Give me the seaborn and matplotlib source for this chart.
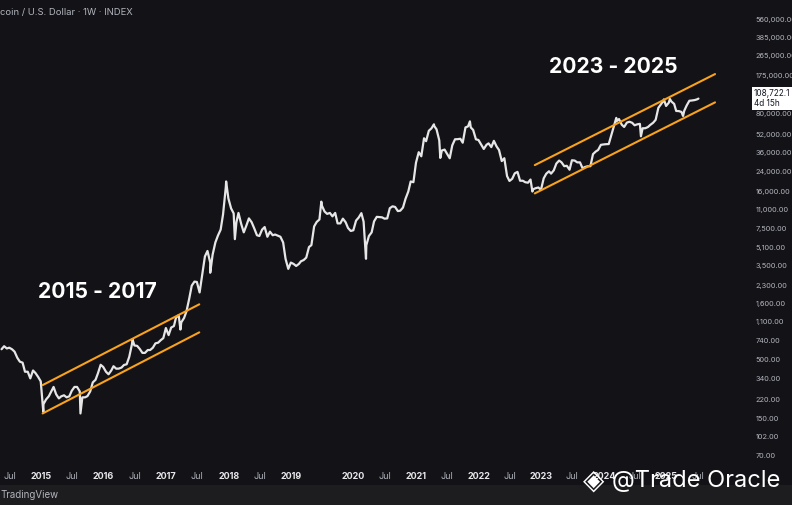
import matplotlib
matplotlib.use("Agg")
import matplotlib.pyplot as plt
import matplotlib.ticker as mticker
import matplotlib.transforms as mtransforms
from matplotlib.patches import Rectangle
import seaborn as sns
import pandas as pd

# ---------------- data ----------------
first_month = "2014-05"
last_month = "2025-06"

# mid-month price (USD)
mid_price = [
    620, 630, 620, 520, 470, 390, 400, 350,                                  # 2014 May-Dec
    200, 235, 285, 225, 240, 235, 285, 260, 230, 260, 330, 450,              # 2015
    390, 400, 415, 425, 455, 690, 665, 575, 610, 640, 710, 780,              # 2016
    830, 1000, 1250, 1180, 1750, 2500, 2000, 4200, 3700, 5600, 7300, 17500,  # 2017
    11300, 8500, 8200, 8000, 8500, 6500, 7300, 6300, 6500, 6450, 5600, 3250, # 2018
    3600, 3600, 3900, 5100, 7800, 9000, 10600, 10300, 10300, 8300, 8500, 7100,  # 2019
    8800, 10250, 5300, 6900, 9500, 9400, 9200, 11800, 10700, 11500, 16000, 19400,  # 2020
    36000, 48000, 56000, 62000, 46000, 38000, 31800, 47000, 47500, 60000, 60000, 47000,  # 2021
    42000, 42000, 40000, 40500, 30000, 22000, 20800, 24000, 20000, 19200, 16800, 17400,  # 2022
    21000, 24300, 24800, 30300, 27000, 25100, 30300, 29200, 26600, 27000, 36500, 41900,  # 2023
    42500, 51900, 68000, 63500, 66300, 66000, 64000, 59000, 60500, 66000, 90000, 104000,  # 2024
    100000, 97500, 84000, 84500, 104000, 105500,                              # 2025 Jan-Jun
]
# month-end price (USD)
end_price = [
    660, 640, 590, 480, 390, 340, 380, 320,
    220, 255, 245, 235, 230, 263, 285, 230, 236, 313, 377, 430,
    370, 437, 416, 448, 530, 670, 625, 575, 610, 700, 745, 960,
    970, 1190, 1080, 1350, 2300, 2480, 2870, 4700, 4350, 6450, 10000, 13900,
    10200, 10300, 6900, 9200, 7500, 6400, 7700, 7000, 6600, 6300, 4000, 3700,
    3450, 3800, 4100, 5300, 8550, 12000, 10100, 9600, 8300, 9150, 7550, 7200,
    9350, 8600, 6400, 8650, 9450, 9150, 11350, 11650, 10780, 13800, 19700, 29000,
    33100, 45200, 58800, 57700, 37300, 35000, 41500, 47100, 43800, 61300, 57000, 46300,
    38500, 43200, 45500, 37700, 31800, 19900, 23300, 20000, 19400, 20500, 17150, 16550,
    23100, 23150, 28500, 29250, 27200, 30500, 29200, 25900, 26950, 34600, 37700, 42250,
    42600, 61200, 71300, 60600, 67500, 62700, 64600, 59000, 63300, 70200, 96400, 93400,
    102400, 84300, 82500, 94200, 104600, 107100,
]
# weekly extremes (wicks) and the last print
wick_dates = ["2015-01-14", "2015-08-19", "2016-06-18", "2017-03-25", "2017-09-15",
              "2017-12-17", "2018-02-06", "2019-06-26", "2020-03-13", "2021-04-14",
              "2021-05-21", "2021-11-10", "2022-11-10", "2024-03-14", "2024-08-05",
              "2024-12-17", "2025-01-21", "2025-04-08", "2025-07-07"]
wick_prices = [170, 165, 760, 930, 3000,
               19700, 6000, 13000, 4000, 64000,
               32000, 68000, 16000, 73000, 50000,
               107000, 108000, 76000, 108722.1]

# channels
ch1_dates = ["2015-01-10", "2017-07-13"]
ch1_upper = [296, 1565]
ch1_lower = [165, 878]
ch2_dates = ["2022-11-24", "2025-10-12"]
ch2_upper = [27600, 180300]
ch2_lower = [15400, 100600]

price_ticks = [70, 102, 150, 220, 340, 500, 740, 1100, 1600, 2300, 3500, 5100, 7500,
               11000, 16000, 24000, 36000, 52000, 80000, 175000, 265000, 385000,
               560000, 840000]
year_ticks = ["2015", "2016", "2017", "2018", "2019", "2020", "2021", "2022", "2023",
              "2024", "2025"]
jul_ticks = ["2014", "2015", "2016", "2017", "2018", "2020", "2021", "2022", "2023",
             "2024", "2025"]
last_price = 108722.1
last_price_label = "108,722.1"
countdown_label = "4d 15h"

# ---------------- build series ----------------
months = pd.period_range(first_month, last_month, freq="M")
dates, prices = [], []
for m, pm, pe in zip(months, mid_price, end_price):
    dates.append(m.start_time + pd.Timedelta(days=14))
    prices.append(pm)
    dates.append(m.end_time.normalize() - pd.Timedelta(days=1))
    prices.append(pe)
dates += list(pd.to_datetime(wick_dates))
prices += wick_prices
df = pd.DataFrame({"date": dates, "price": prices}).sort_values("date")

# ---------------- style ----------------
BG = "#131217"
BAR = "#1d1d20"
TXT = "#b2b5be"
ORANGE = "#f9a21b"

sns.set_theme(style="dark")
plt.rcParams["font.family"] = ["Inter", "DejaVu Sans"]

W, H = 792, 505
fig = plt.figure(figsize=(W / 100, H / 100), dpi=100, facecolor=BG)
ax_right_px, ax_bottom_px = 751, 468
ax = fig.add_axes([0, (H - ax_bottom_px) / H, ax_right_px / W, ax_bottom_px / H])
ax.set_facecolor(BG)

sns.lineplot(data=df, x="date", y="price", ax=ax, color="#e6e6e6", lw=1.6,
             estimator=None, sort=False)

for d, up, lo in [(ch1_dates, ch1_upper, ch1_lower), (ch2_dates, ch2_upper, ch2_lower)]:
    dd = pd.to_datetime(d)
    sns.lineplot(x=dd, y=up, ax=ax, color=ORANGE, lw=1.5)
    sns.lineplot(x=dd, y=lo, ax=ax, color=ORANGE, lw=1.5)

ax.set_yscale("log")
ax.set_ylim(53.6, 830000)
ax.set_xlim(pd.Timestamp("2014-05-06"), pd.Timestamp("2026-05-10"))
ax.set_xlabel("")
ax.set_ylabel("")
for s in ax.spines.values():
    s.set_visible(False)
ax.grid(False)

# y ticks on the right
ax.yaxis.tick_right()
ax.yaxis.set_major_locator(mticker.FixedLocator(price_ticks))
ax.yaxis.set_minor_locator(mticker.NullLocator())
ax.yaxis.set_major_formatter(mticker.FuncFormatter(lambda v, p: f"{v:,.2f}"))
ax.tick_params(axis="y", length=0, pad=3.5, labelsize=5.3, labelcolor=TXT)

# x ticks
tick_pos, tick_lab = [], []
for y in year_ticks:
    tick_pos.append(pd.Timestamp(f"{y}-01-01"))
    tick_lab.append(y)
for y in jul_ticks:
    tick_pos.append(pd.Timestamp(f"{y}-07-01"))
    tick_lab.append("Jul")
ax.set_xticks(tick_pos)
ax.set_xticklabels(tick_lab)
ax.tick_params(axis="x", length=0, pad=3, labelsize=6.5, labelcolor=TXT)
for t in ax.get_xticklabels():
    if t.get_text() != "Jul":
        t.set_fontweight("bold")
        t.set_color("#e8e8ea")

# annotations
ax.text(38 / ax_right_px, 1 - 292 / ax_bottom_px, "2015 - 2017", transform=ax.transAxes,
        color="white", fontsize=15.2, fontweight="bold", va="center", ha="left")
ax.text(549 / ax_right_px, 1 - 67 / ax_bottom_px, "2023 - 2025", transform=ax.transAxes,
        color="white", fontsize=15.2, fontweight="bold", va="center", ha="left")

# last price box
trans = mtransforms.blended_transform_factory(ax.transAxes, ax.transData)
ax.text(1.004, last_price, last_price_label + "\n" + countdown_label, transform=trans,
        fontsize=5.9, color="#131722", va="center", ha="left", linespacing=1.05,
        bbox=dict(boxstyle="square,pad=0.3", fc="white", ec="none"), clip_on=False,
        zorder=10)

# header
fig.text(0, 1 - 12 / H, "coin / U.S. Dollar · 1W · INDEX", color=TXT, fontsize=6.8,
         va="center", ha="left")

# bottom bar
fig.patches.append(Rectangle((0, 0), 1, 20 / H, transform=fig.transFigure,
                             facecolor=BAR, edgecolor="none", zorder=0))
fig.text(0, 10 / H, "TradingView", color=TXT, fontsize=7, va="center", ha="left")

# watermark
fig.text(583 / W, 1 - 481 / H, "◈", color="white", fontsize=20, va="center", ha="left",
         family="DejaVu Sans")
fig.text(612 / W, 1 - 481 / H, "@Trade Oracle", color="white", fontsize=17,
         va="center", ha="left")

fig.savefig("out.png", dpi=100, facecolor=BG)
